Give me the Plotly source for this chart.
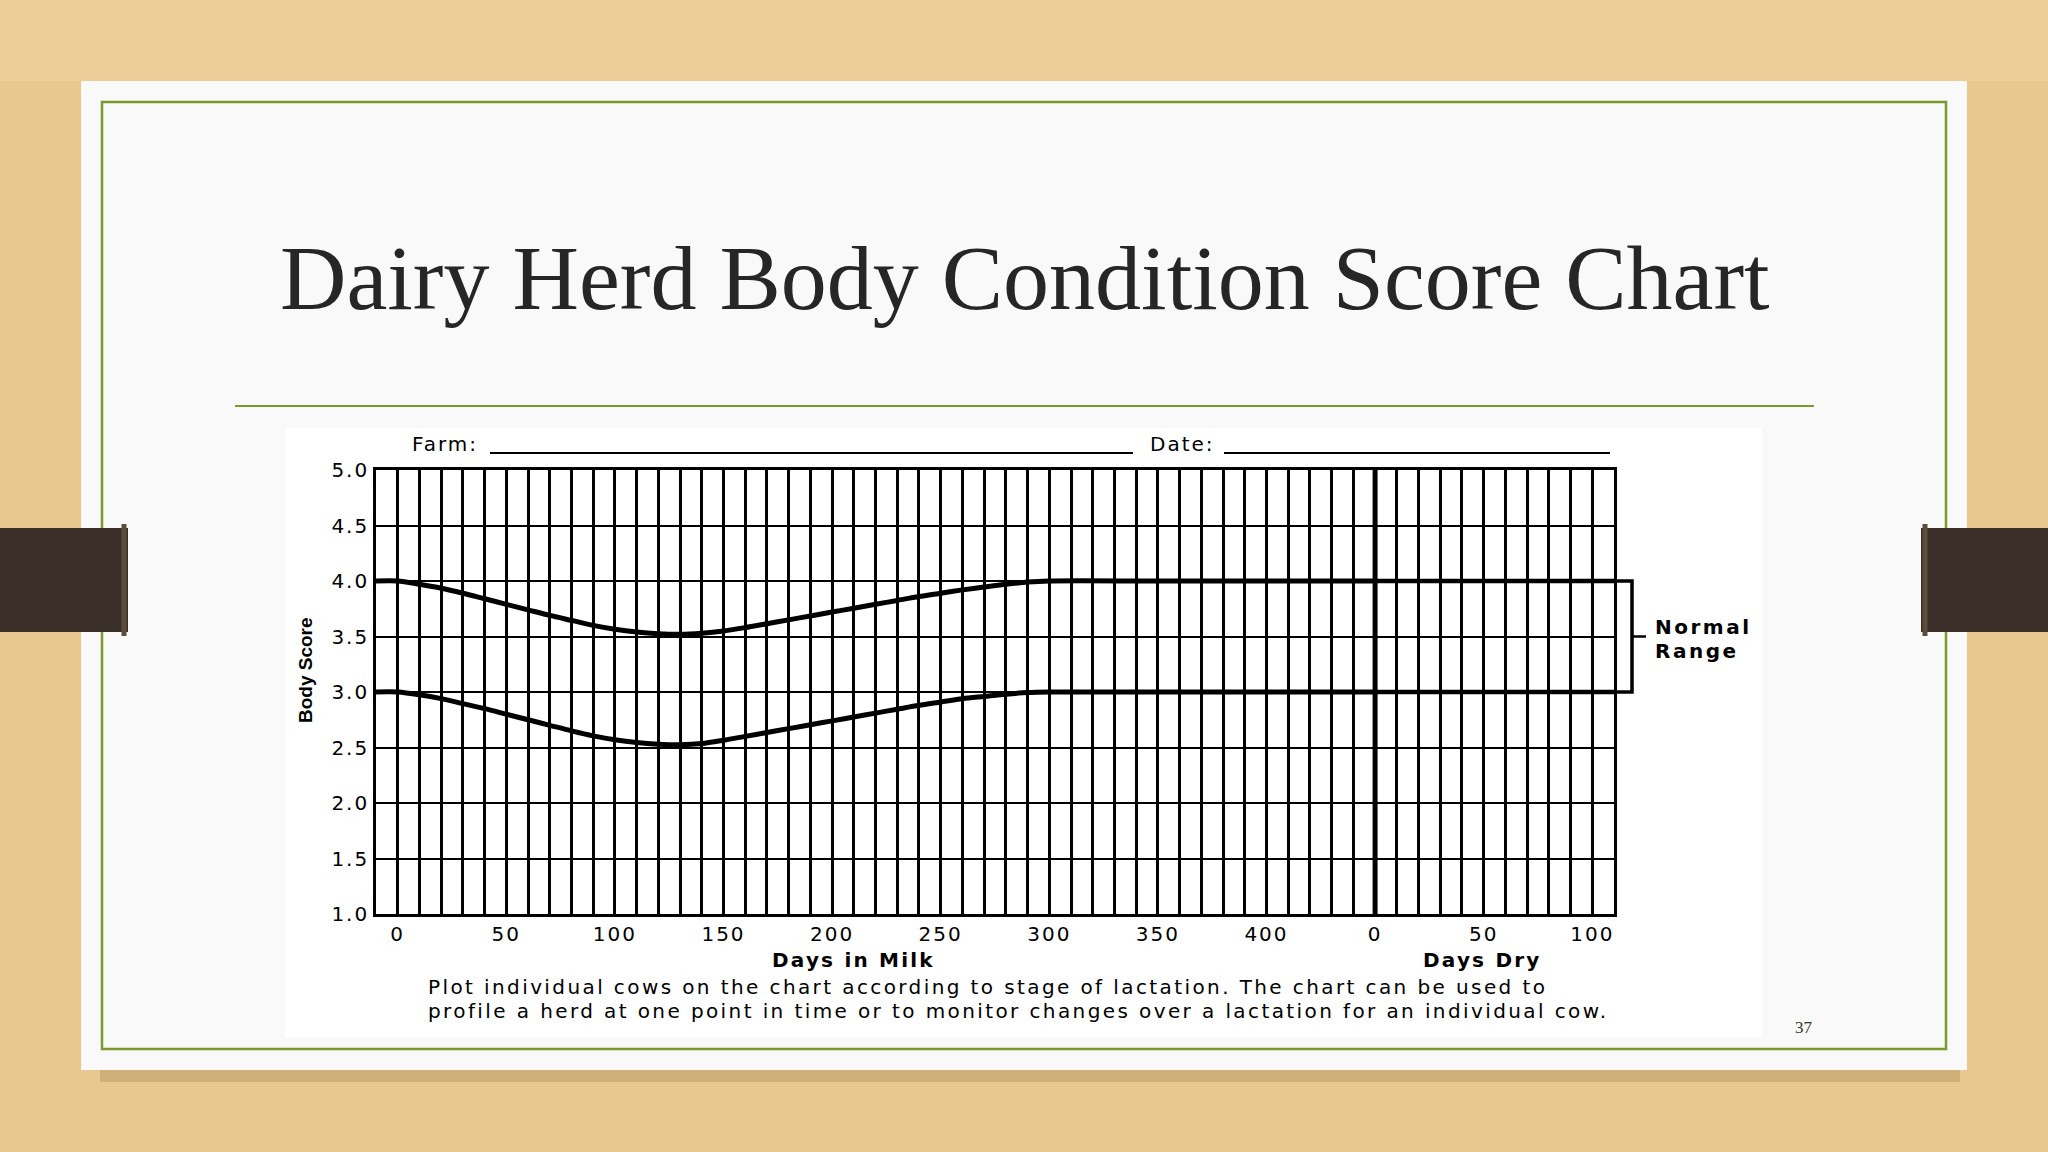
import plotly.graph_objects as go

# ---------------- data ----------------
DAYS_IN_MILK = [-10, 0, 10, 20, 30, 40, 50, 60, 70, 80, 90, 100, 110, 120, 130, 140, 150,
                160, 170, 180, 190, 200, 210, 220, 230, 240, 250, 260, 270, 280, 290, 300,
                350, 400, 450]
UPPER_BCS = [4.00, 4.00, 3.97, 3.935, 3.89, 3.84, 3.79, 3.74, 3.69, 3.645, 3.60, 3.565,
             3.54, 3.525, 3.52, 3.53, 3.55, 3.58, 3.615, 3.65, 3.685, 3.72, 3.755, 3.79,
             3.825, 3.86, 3.89, 3.92, 3.945, 3.97, 3.99, 4.00, 4.00, 4.00, 4.00]
LOWER_BCS = [3.00, 3.00, 2.975, 2.94, 2.895, 2.85, 2.80, 2.75, 2.70, 2.65, 2.605, 2.57,
             2.545, 2.53, 2.525, 2.535, 2.565, 2.60, 2.635, 2.67, 2.705, 2.74, 2.775, 2.81,
             2.845, 2.88, 2.91, 2.94, 2.96, 2.98, 2.995, 3.00, 3.00, 3.00, 3.00]
DAYS_DRY = [0, 110]
UPPER_DRY = [4.0, 4.0]
LOWER_DRY = [3.0, 3.0]
NORMAL_RANGE = [3.0, 4.0]

MILK_TICKS = [0, 50, 100, 150, 200, 250, 300, 350, 400]
DRY_TICKS = [0, 50, 100]
Y_TICKS = [1.0, 1.5, 2.0, 2.5, 3.0, 3.5, 4.0, 4.5, 5.0]
DRY_OFFSET = 450          # dry-period day 0 sits on lactation day 450
X_RANGE = [-10, 560]
Y_RANGE = [1.0, 5.0]

W, H = 2048, 1152


def px(x):
    return x / W


def py(y):
    return 1 - y / H


def spaced(s, sp):
    return f"<span style='letter-spacing:{sp}px'>{s}</span>"


tick_pos = MILK_TICKS + [DRY_OFFSET + d for d in DRY_TICKS]
tick_txt = [spaced(v, 2) for v in MILK_TICKS] + [spaced(v, 2) for v in DRY_TICKS]
ytick_txt = [spaced(f"{v:.1f}", 2) for v in Y_TICKS]

fig = go.Figure()

# thick divider between lactation and dry period
fig.add_trace(go.Scatter(x=[DRY_OFFSET, DRY_OFFSET], y=Y_RANGE, mode="lines",
                         line=dict(color="black", width=5), hoverinfo="skip"))

for ys, ydry in ((UPPER_BCS, UPPER_DRY), (LOWER_BCS, LOWER_DRY)):
    fig.add_trace(go.Scatter(x=DAYS_IN_MILK, y=ys, mode="lines",
                             line=dict(color="black", width=5, shape="spline",
                                       smoothing=0.8), hoverinfo="skip"))
    fig.add_trace(go.Scatter(x=[DRY_OFFSET + d for d in DAYS_DRY], y=ydry, mode="lines",
                             line=dict(color="black", width=4.5), hoverinfo="skip"))

chart_font = "DejaVu Sans, Liberation Sans, Arial"

fig.update_layout(
    width=W, height=H, autosize=False,
    margin=dict(l=0, r=0, t=0, b=0, pad=0, autoexpand=False),
    paper_bgcolor="#e8c88e",
    plot_bgcolor="white",
    showlegend=False,
    xaxis=dict(
        domain=[px(376), px(1614)], range=X_RANGE, automargin=False,
        tickmode="array", tickvals=tick_pos, ticktext=tick_txt,
        showgrid=True, gridcolor="black", gridwidth=2.6,
        minor=dict(tickmode="linear", tick0=0, dtick=10, showgrid=True,
                   gridcolor="black", gridwidth=2.6),
        showline=True, linecolor="black", linewidth=2.6, mirror=True,
        zeroline=False, ticks="",
        tickfont=dict(family=chart_font, size=20, color="black"),
    ),
    yaxis=dict(
        domain=[py(914), py(470)], range=Y_RANGE, automargin=False,
        tickmode="array", tickvals=Y_TICKS, ticktext=ytick_txt,
        showgrid=True, gridcolor="black", gridwidth=1.7,
        showline=True, linecolor="black", linewidth=2.6, mirror=True,
        zeroline=False, ticks="",
        tickfont=dict(family=chart_font, size=20, color="black"),
    ),
)

shapes = []
# lighter wood band at the top
shapes.append(dict(type="rect", xref="paper", yref="paper", layer="below",
                   x0=0, x1=1, y0=py(81), y1=1,
                   fillcolor="rgba(245,222,175,0.3)", line=dict(width=0)))
# slide shadow + slide
shapes.append(dict(type="rect", xref="paper", yref="paper", layer="below",
                   x0=px(100), x1=px(1960), y0=py(1082), y1=py(1060),
                   fillcolor="rgba(120,90,50,0.22)", line=dict(width=0)))
shapes.append(dict(type="rect", xref="paper", yref="paper", layer="below",
                   x0=px(81), x1=px(1967), y0=py(1070), y1=py(81),
                   fillcolor="#f9f9f9", line=dict(width=0)))
# green frame
shapes.append(dict(type="rect", xref="paper", yref="paper", layer="below",
                   x0=px(102), x1=px(1946), y0=py(1049), y1=py(102),
                   fillcolor="rgba(0,0,0,0)", line=dict(color="#7b9a2c", width=2.5)))
# title rule
shapes.append(dict(type="line", xref="paper", yref="paper", layer="below",
                   x0=px(235), x1=px(1814), y0=py(406), y1=py(406),
                   line=dict(color="#7b9a2c", width=2)))
# chart picture background
shapes.append(dict(type="rect", xref="paper", yref="paper", layer="below",
                   x0=px(285), x1=px(1762), y0=py(1038), y1=py(428),
                   fillcolor="white", line=dict(width=0)))
# dark tabs with rounded end caps
for x0, x1, cap in ((0, 128, 124), (1921, 2048, 1925)):
    shapes.append(dict(type="rect", xref="paper", yref="paper", layer="below",
                       x0=px(x0), x1=px(x1), y0=py(632), y1=py(528),
                       fillcolor="#3a2f29", line=dict(width=0)))
    shapes.append(dict(type="line", xref="paper", yref="paper", layer="below",
                       x0=px(cap), x1=px(cap), y0=py(636), y1=py(524),
                       line=dict(color="#5a4d3c", width=5)))
# Farm / Date underlines
for x0, x1 in ((490, 1133), (1224, 1610)):
    shapes.append(dict(type="line", xref="paper", yref="paper", layer="below",
                       x0=px(x0), x1=px(x1), y0=py(453), y1=py(453),
                       line=dict(color="black", width=2)))
# normal range bracket
lo, hi = NORMAL_RANGE
mid = (lo + hi) / 2
shapes.append(dict(type="path", xref="paper", yref="y", layer="above",
                   path=f"M {px(1612)},{hi} L {px(1632)},{hi} L {px(1632)},{lo} L {px(1612)},{lo}",
                   line=dict(color="black", width=3.5)))
shapes.append(dict(type="line", xref="paper", yref="y", layer="above",
                   x0=px(1632), x1=px(1646), y0=mid, y1=mid,
                   line=dict(color="black", width=2.5)))
fig.update_layout(shapes=shapes)

ann = []


def text(x, y, s, size, family=chart_font, bold=False, xanchor="left", color="black",
         angle=0, sp=0):
    ann.append(dict(xref="paper", yref="paper", x=px(x), y=py(y),
                    text=spaced(s, sp) if sp else s,
                    showarrow=False, xanchor=xanchor, yanchor="middle", textangle=angle,
                    font=dict(family=family, size=size, color=color,
                              weight="bold" if bold else "normal")))


text(1025, 278, "Dairy Herd Body Condition Score Chart", 92,
     family="Liberation Serif, DejaVu Serif, serif", xanchor="center", color="#262626")
text(410, 444, "Farm:", 20, sp=2)
text(1148, 444, "Date:", 20, sp=2)
text(305, 670, "Body Score", 19, family="Liberation Sans Narrow, Liberation Sans, Arial",
     bold=True, xanchor="center", angle=-90)
text(853, 960, "Days in Milk", 20, bold=True, xanchor="center", sp=2.2)
text(1482, 960, "Days Dry", 20, bold=True, xanchor="center", sp=2.2)
text(1653, 627, "Normal", 20, bold=True, sp=2.5)
text(1653, 651, "Range", 20, bold=True, sp=2.5)
text(426, 987, "Plot individual cows on the chart according to stage of lactation. "
               "The chart can be used to", 20, sp=2.4)
text(426, 1011, "profile a herd at one point in time or to monitor changes over a "
                "lactation for an individual cow.", 20, sp=2.4)
text(1804, 1027, "37", 17, family="Liberation Serif, serif", xanchor="center", color="#333333")
fig.update_layout(annotations=ann)

fig.write_html(
    "out.html",
    config={"displayModeBar": False},
    post_script=(
        "var d=document.getElementById('{plot_id}');"
        "d.style.position='fixed';d.style.top='0px';d.style.left='0px';"
        "document.documentElement.style.margin='0';document.body.style.margin='0';"
        "document.documentElement.style.overflow='hidden';document.body.style.overflow='hidden';"
    ),
)
